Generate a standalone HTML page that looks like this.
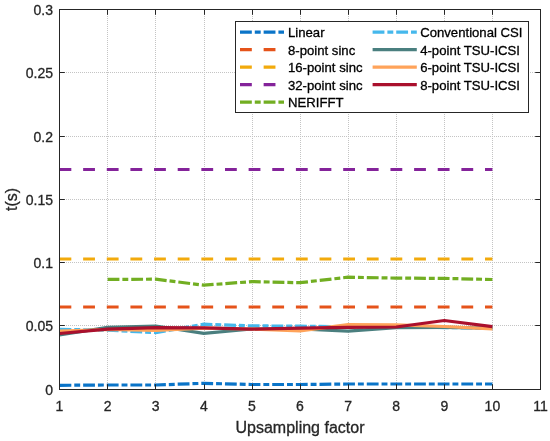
<!DOCTYPE html>
<html><head><meta charset="utf-8"><title>Upsampling factor vs t(s)</title>
<style>html,body{margin:0;padding:0;background:#fff;width:550px;height:441px;overflow:hidden}svg{display:block}</style>
</head><body>
<svg width="550" height="441" viewBox="0 0 550 441" font-family="'Liberation Sans', Arial, sans-serif">
<defs><clipPath id="c"><rect x="59.5" y="9.5" width="481.0" height="380.0"/></clipPath></defs>
<rect width="550" height="441" fill="#fff"/>
<g stroke="#c4c4c4" stroke-width="1" stroke-dasharray="1 1"><line x1="107.50" y1="10.0" x2="107.50" y2="389.0"/><line x1="155.50" y1="10.0" x2="155.50" y2="389.0"/><line x1="204.50" y1="10.0" x2="204.50" y2="389.0"/><line x1="252.50" y1="10.0" x2="252.50" y2="389.0"/><line x1="300.50" y1="10.0" x2="300.50" y2="389.0"/><line x1="348.50" y1="10.0" x2="348.50" y2="389.0"/><line x1="396.50" y1="10.0" x2="396.50" y2="389.0"/><line x1="444.50" y1="10.0" x2="444.50" y2="389.0"/><line x1="492.50" y1="10.0" x2="492.50" y2="389.0"/><line x1="60.0" y1="325.50" x2="540.0" y2="325.50"/><line x1="60.0" y1="262.50" x2="540.0" y2="262.50"/><line x1="60.0" y1="199.50" x2="540.0" y2="199.50"/><line x1="60.0" y1="136.50" x2="540.0" y2="136.50"/><line x1="60.0" y1="72.50" x2="540.0" y2="72.50"/></g><g clip-path="url(#c)"><polyline fill="none" stroke="#0A74C8" stroke-width="3.2" stroke-dasharray="11.82 2.955 5.91 2.955" stroke-linejoin="round" points="59.50,385.30 107.60,385.00 155.70,385.00 203.80,383.30 251.90,384.50 300.00,384.50 348.10,384.00 396.20,384.00 444.30,384.00 492.40,384.00"/><polyline fill="none" stroke="#E5531A" stroke-width="3.2" stroke-dasharray="11.82 11.82" stroke-linejoin="round" points="59.50,307.00 107.60,307.00 155.70,307.00 203.80,307.00 251.90,307.00 300.00,307.00 348.10,307.00 396.20,307.00 444.30,307.00 492.40,307.00"/><polyline fill="none" stroke="#F2AA0C" stroke-width="3.2" stroke-dasharray="11.82 11.82" stroke-linejoin="round" points="59.50,259.00 107.60,259.00 155.70,259.00 203.80,259.00 251.90,259.00 300.00,259.00 348.10,259.00 396.20,259.00 444.30,259.00 492.40,259.00"/><polyline fill="none" stroke="#84239A" stroke-width="3.2" stroke-dasharray="11.82 11.82" stroke-linejoin="round" points="59.50,169.50 107.60,169.50 155.70,169.50 203.80,169.50 251.90,169.50 300.00,169.50 348.10,169.50 396.20,169.50 444.30,169.50 492.40,169.50"/><polyline fill="none" stroke="#72AE22" stroke-width="3.2" stroke-dasharray="11.82 2.955 5.91 2.955" stroke-linejoin="round" points="107.60,279.40 155.70,279.20 203.80,285.20 251.90,281.60 300.00,282.70 348.10,277.20 396.20,278.10 444.30,278.40 492.40,279.50"/><polyline fill="none" stroke="#45B8EC" stroke-width="3.2" stroke-dasharray="11.82 2.955 5.91 2.955" stroke-linejoin="round" points="59.50,329.30 107.60,330.20 155.70,332.60 203.80,324.20 251.90,325.90 300.00,326.10 348.10,327.00 396.20,327.00 444.30,327.60 492.40,328.20"/><polyline fill="none" stroke="#4A7F7F" stroke-width="3.2" stroke-linejoin="round" points="59.50,335.00 107.60,327.40 155.70,326.00 203.80,333.40 251.90,329.00 300.00,329.00 348.10,331.10 396.20,327.60 444.30,327.40 492.40,328.20"/><polyline fill="none" stroke="#FFA35A" stroke-width="3.2" stroke-linejoin="round" points="59.50,331.00 107.60,329.50 155.70,330.30 203.80,328.20 251.90,329.00 300.00,330.90 348.10,324.70 396.20,324.80 444.30,326.50 492.40,328.80"/><polyline fill="none" stroke="#AA102D" stroke-width="3.2" stroke-linejoin="round" points="59.50,333.50 107.60,329.20 155.70,327.70 203.80,327.80 251.90,329.10 300.00,328.20 348.10,327.30 396.20,327.00 444.30,320.50 492.40,326.70"/></g><g stroke="#262626" stroke-width="1"><line x1="59.50" y1="389.5" x2="59.50" y2="384.2"/><line x1="59.50" y1="9.5" x2="59.50" y2="14.8"/><line x1="107.50" y1="389.5" x2="107.50" y2="384.2"/><line x1="107.50" y1="9.5" x2="107.50" y2="14.8"/><line x1="155.50" y1="389.5" x2="155.50" y2="384.2"/><line x1="155.50" y1="9.5" x2="155.50" y2="14.8"/><line x1="204.50" y1="389.5" x2="204.50" y2="384.2"/><line x1="204.50" y1="9.5" x2="204.50" y2="14.8"/><line x1="252.50" y1="389.5" x2="252.50" y2="384.2"/><line x1="252.50" y1="9.5" x2="252.50" y2="14.8"/><line x1="300.50" y1="389.5" x2="300.50" y2="384.2"/><line x1="300.50" y1="9.5" x2="300.50" y2="14.8"/><line x1="348.50" y1="389.5" x2="348.50" y2="384.2"/><line x1="348.50" y1="9.5" x2="348.50" y2="14.8"/><line x1="396.50" y1="389.5" x2="396.50" y2="384.2"/><line x1="396.50" y1="9.5" x2="396.50" y2="14.8"/><line x1="444.50" y1="389.5" x2="444.50" y2="384.2"/><line x1="444.50" y1="9.5" x2="444.50" y2="14.8"/><line x1="492.50" y1="389.5" x2="492.50" y2="384.2"/><line x1="492.50" y1="9.5" x2="492.50" y2="14.8"/><line x1="540.50" y1="389.5" x2="540.50" y2="384.2"/><line x1="540.50" y1="9.5" x2="540.50" y2="14.8"/><line x1="59.5" y1="389.50" x2="64.8" y2="389.50"/><line x1="540.5" y1="389.50" x2="535.2" y2="389.50"/><line x1="59.5" y1="325.50" x2="64.8" y2="325.50"/><line x1="540.5" y1="325.50" x2="535.2" y2="325.50"/><line x1="59.5" y1="262.50" x2="64.8" y2="262.50"/><line x1="540.5" y1="262.50" x2="535.2" y2="262.50"/><line x1="59.5" y1="199.50" x2="64.8" y2="199.50"/><line x1="540.5" y1="199.50" x2="535.2" y2="199.50"/><line x1="59.5" y1="136.50" x2="64.8" y2="136.50"/><line x1="540.5" y1="136.50" x2="535.2" y2="136.50"/><line x1="59.5" y1="72.50" x2="64.8" y2="72.50"/><line x1="540.5" y1="72.50" x2="535.2" y2="72.50"/><line x1="59.5" y1="9.50" x2="64.8" y2="9.50"/><line x1="540.5" y1="9.50" x2="535.2" y2="9.50"/><rect x="59.5" y="9.5" width="481.0" height="380.0" fill="none"/></g><g font-size="14" fill="#262626" stroke="#262626" stroke-width="0.3"><text x="59.50" y="410.5" text-anchor="middle">1</text><text x="107.60" y="410.5" text-anchor="middle">2</text><text x="155.70" y="410.5" text-anchor="middle">3</text><text x="203.80" y="410.5" text-anchor="middle">4</text><text x="251.90" y="410.5" text-anchor="middle">5</text><text x="300.00" y="410.5" text-anchor="middle">6</text><text x="348.10" y="410.5" text-anchor="middle">7</text><text x="396.20" y="410.5" text-anchor="middle">8</text><text x="444.30" y="410.5" text-anchor="middle">9</text><text x="492.40" y="410.5" text-anchor="middle">10</text><text x="540.50" y="410.5" text-anchor="middle">11</text><text x="53" y="394.50" text-anchor="end">0</text><text x="53" y="330.50" text-anchor="end">0.05</text><text x="53" y="267.50" text-anchor="end">0.1</text><text x="53" y="204.50" text-anchor="end">0.15</text><text x="53" y="141.50" text-anchor="end">0.2</text><text x="53" y="77.50" text-anchor="end">0.25</text><text x="53" y="14.50" text-anchor="end">0.3</text></g><text x="300" y="433.2" text-anchor="middle" font-size="16" fill="#262626" stroke="#262626" stroke-width="0.3">Upsampling factor</text><text transform="translate(17.2,199.5) rotate(-90)" text-anchor="middle" font-size="16" fill="#262626" stroke="#262626" stroke-width="0.3">t(s)</text><g><rect x="235.5" y="21.5" width="293.0" height="91.0" fill="#fff" stroke="#262626" stroke-width="1"/><line x1="240" y1="32.2" x2="284" y2="32.2" stroke="#0A74C8" stroke-width="3.2" stroke-dasharray="11.82 2.955 5.91 2.955"/><text x="288" y="37.20" font-size="13.15" fill="#000" stroke="#000" stroke-width="0.3">Linear</text><line x1="240" y1="49.7" x2="284" y2="49.7" stroke="#E5531A" stroke-width="3.2" stroke-dasharray="11.82 11.82"/><text x="288" y="54.70" font-size="13.15" fill="#000" stroke="#000" stroke-width="0.3">8-point sinc</text><line x1="240" y1="67.2" x2="284" y2="67.2" stroke="#F2AA0C" stroke-width="3.2" stroke-dasharray="11.82 11.82"/><text x="288" y="72.20" font-size="13.15" fill="#000" stroke="#000" stroke-width="0.3">16-point sinc</text><line x1="240" y1="84.7" x2="284" y2="84.7" stroke="#84239A" stroke-width="3.2" stroke-dasharray="11.82 11.82"/><text x="288" y="89.70" font-size="13.15" fill="#000" stroke="#000" stroke-width="0.3">32-point sinc</text><line x1="240" y1="102.2" x2="284" y2="102.2" stroke="#72AE22" stroke-width="3.2" stroke-dasharray="11.82 2.955 5.91 2.955"/><text x="288" y="107.20" font-size="13.15" fill="#000" stroke="#000" stroke-width="0.3">NERIFFT</text><line x1="372.6" y1="32.2" x2="416.8" y2="32.2" stroke="#45B8EC" stroke-width="3.2" stroke-dasharray="11.82 2.955 5.91 2.955"/><text x="420.2" y="37.20" font-size="13.15" fill="#000" stroke="#000" stroke-width="0.3">Conventional CSI</text><line x1="372.6" y1="49.7" x2="416.8" y2="49.7" stroke="#4A7F7F" stroke-width="3.2"/><text x="420.2" y="54.70" font-size="13.15" fill="#000" stroke="#000" stroke-width="0.3">4-point TSU-ICSI</text><line x1="372.6" y1="67.2" x2="416.8" y2="67.2" stroke="#FFA35A" stroke-width="3.2"/><text x="420.2" y="72.20" font-size="13.15" fill="#000" stroke="#000" stroke-width="0.3">6-point TSU-ICSI</text><line x1="372.6" y1="84.7" x2="416.8" y2="84.7" stroke="#AA102D" stroke-width="3.2"/><text x="420.2" y="89.70" font-size="13.15" fill="#000" stroke="#000" stroke-width="0.3">8-point TSU-ICSI</text></g>
</svg>
</body></html>
